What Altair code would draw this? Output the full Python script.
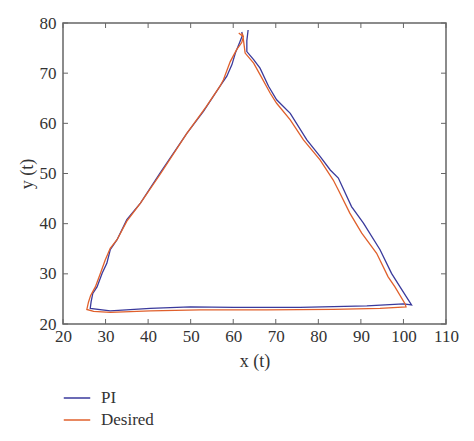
import altair as alt
import pandas as pd

# PI (tracked) trajectory
pi_x = [63.5, 63.2, 63.2, 64.8, 66.3, 68.3, 70.2, 73.4, 77.3, 80.4, 82.8, 84.7, 87.8, 90.6, 94.5, 97.2, 99.2, 101.9,
        100.0, 91.4, 75.7, 60.1, 49.9, 40.5, 31.1, 26.4,
        26.6, 27.0, 28.0, 29.2, 30.3, 31.1, 32.7, 35.0, 38.2, 42.8, 49.1, 53.0, 56.9, 58.5, 59.7, 60.5, 61.6, 62.2, 62.0]
pi_y = [78.6, 76.5, 74.3, 72.7, 71.0, 67.4, 64.7, 62.0, 56.7, 53.4, 50.7, 49.1, 43.4, 40.1, 34.8, 30.1, 27.4, 23.8,
        24.0, 23.6, 23.3, 23.3, 23.4, 23.1, 22.6, 23.1,
        24.4, 26.1, 27.4, 30.1, 32.1, 34.8, 36.8, 40.8, 44.1, 50.1, 58.0, 62.4, 67.4, 69.4, 71.7, 74.0, 76.3, 77.6, 78.2]

# Desired trajectory
de_x = [61.3, 62.3, 62.8, 64.8, 66.3, 68.7, 70.2, 73.4, 76.5, 80.4, 83.5, 84.7, 87.4, 90.2, 93.7, 96.4, 98.0, 100.4, 100.6,
        94.5, 83.5, 67.9, 52.2, 40.5, 31.1, 27.2, 25.6,
        26.0, 26.5, 27.6, 28.8, 29.9, 31.1, 32.7, 35.0, 38.2, 42.8, 49.1, 53.7, 56.9, 57.7, 59.3, 60.8, 62.0, 62.4, 62.0]
de_y = [78.0, 77.3, 74.0, 72.0, 69.7, 66.0, 64.0, 60.7, 56.7, 52.7, 48.7, 46.7, 42.1, 38.1, 34.1, 29.4, 27.4, 24.0, 23.4,
        23.1, 22.9, 22.8, 22.8, 22.6, 22.3, 22.5, 22.9,
        24.4, 25.7, 27.4, 30.1, 32.7, 35.1, 36.8, 40.5, 44.1, 49.8, 58.0, 63.4, 67.4, 68.7, 72.3, 74.7, 76.1, 77.3, 78.0]

x_ticks = [20, 30, 40, 50, 60, 70, 80, 90, 100, 110]
y_ticks = [20, 30, 40, 50, 60, 70, 80]
series = ["PI", "Desired"]
colors = ["#3a3a9c", "#e0602c"]

rows = []
for name, xs, ys in [("PI", pi_x, pi_y), ("Desired", de_x, de_y)]:
    for i, (a, b) in enumerate(zip(xs, ys)):
        rows.append({"series": name, "x": a, "y": b, "i": i})
df = pd.DataFrame(rows)

W, H = 383, 301
FONT = "Liberation Serif"
GRAY = "#666666"
TXT = "#333333"

xs = alt.Scale(domain=[20, 110], nice=False)
ys = alt.Scale(domain=[20, 80], nice=False)

axis_common = dict(tickSize=0, domain=False, grid=False,
                   labelFont=FONT, labelFontSize=17, labelColor=TXT,
                   titleFont=FONT, titleFontSize=18, titleColor=TXT, titleFontWeight="normal")

lines = alt.Chart(df).mark_line(strokeWidth=1.3).encode(
    x=alt.X("x:Q", scale=xs, axis=alt.Axis(values=x_ticks, title="x (t)", labelFlush=False,
                                             labelPadding=4, titlePadding=8, **axis_common)),
    y=alt.Y("y:Q", scale=ys, axis=alt.Axis(values=y_ticks, title="y (t)",
                                             labelPadding=7, titlePadding=3, **axis_common)),
    color=alt.Color("series:N", scale=alt.Scale(domain=series, range=colors),
                    legend=alt.Legend(title=None, orient="none", legendX=0, legendY=361,
                                      symbolType="stroke", symbolSize=700, symbolStrokeWidth=1.5,
                                      labelFont=FONT, labelFontSize=17, labelColor=TXT,
                                      rowPadding=-4, labelOffset=10)),
    order="i:Q",
)

xt = pd.DataFrame({"t": x_ticks})
yt = pd.DataFrame({"t": y_ticks})
tick_style = dict(color=GRAY, strokeWidth=1)
xb = alt.Chart(xt).mark_rule(**tick_style).encode(x=alt.X("t:Q", scale=xs), y=alt.value(H), y2=alt.value(H - 5))
xtp = alt.Chart(xt).mark_rule(**tick_style).encode(x=alt.X("t:Q", scale=xs), y=alt.value(0), y2=alt.value(5))
yl = alt.Chart(yt).mark_rule(**tick_style).encode(y=alt.Y("t:Q", scale=ys), x=alt.value(0), x2=alt.value(5))
yr = alt.Chart(yt).mark_rule(**tick_style).encode(y=alt.Y("t:Q", scale=ys), x=alt.value(W), x2=alt.value(W - 5))

chart = alt.layer(xb, xtp, yl, yr, lines).properties(
    width=W, height=H,
    background="white",
    autosize=alt.AutoSizeParams(type="none"),
    padding={"left": 55, "top": 15, "right": 20, "bottom": 109},
).configure_view(stroke=GRAY, strokeWidth=1.5)

chart.save("out.html", embed_options={"renderer": "svg", "actions": False})
